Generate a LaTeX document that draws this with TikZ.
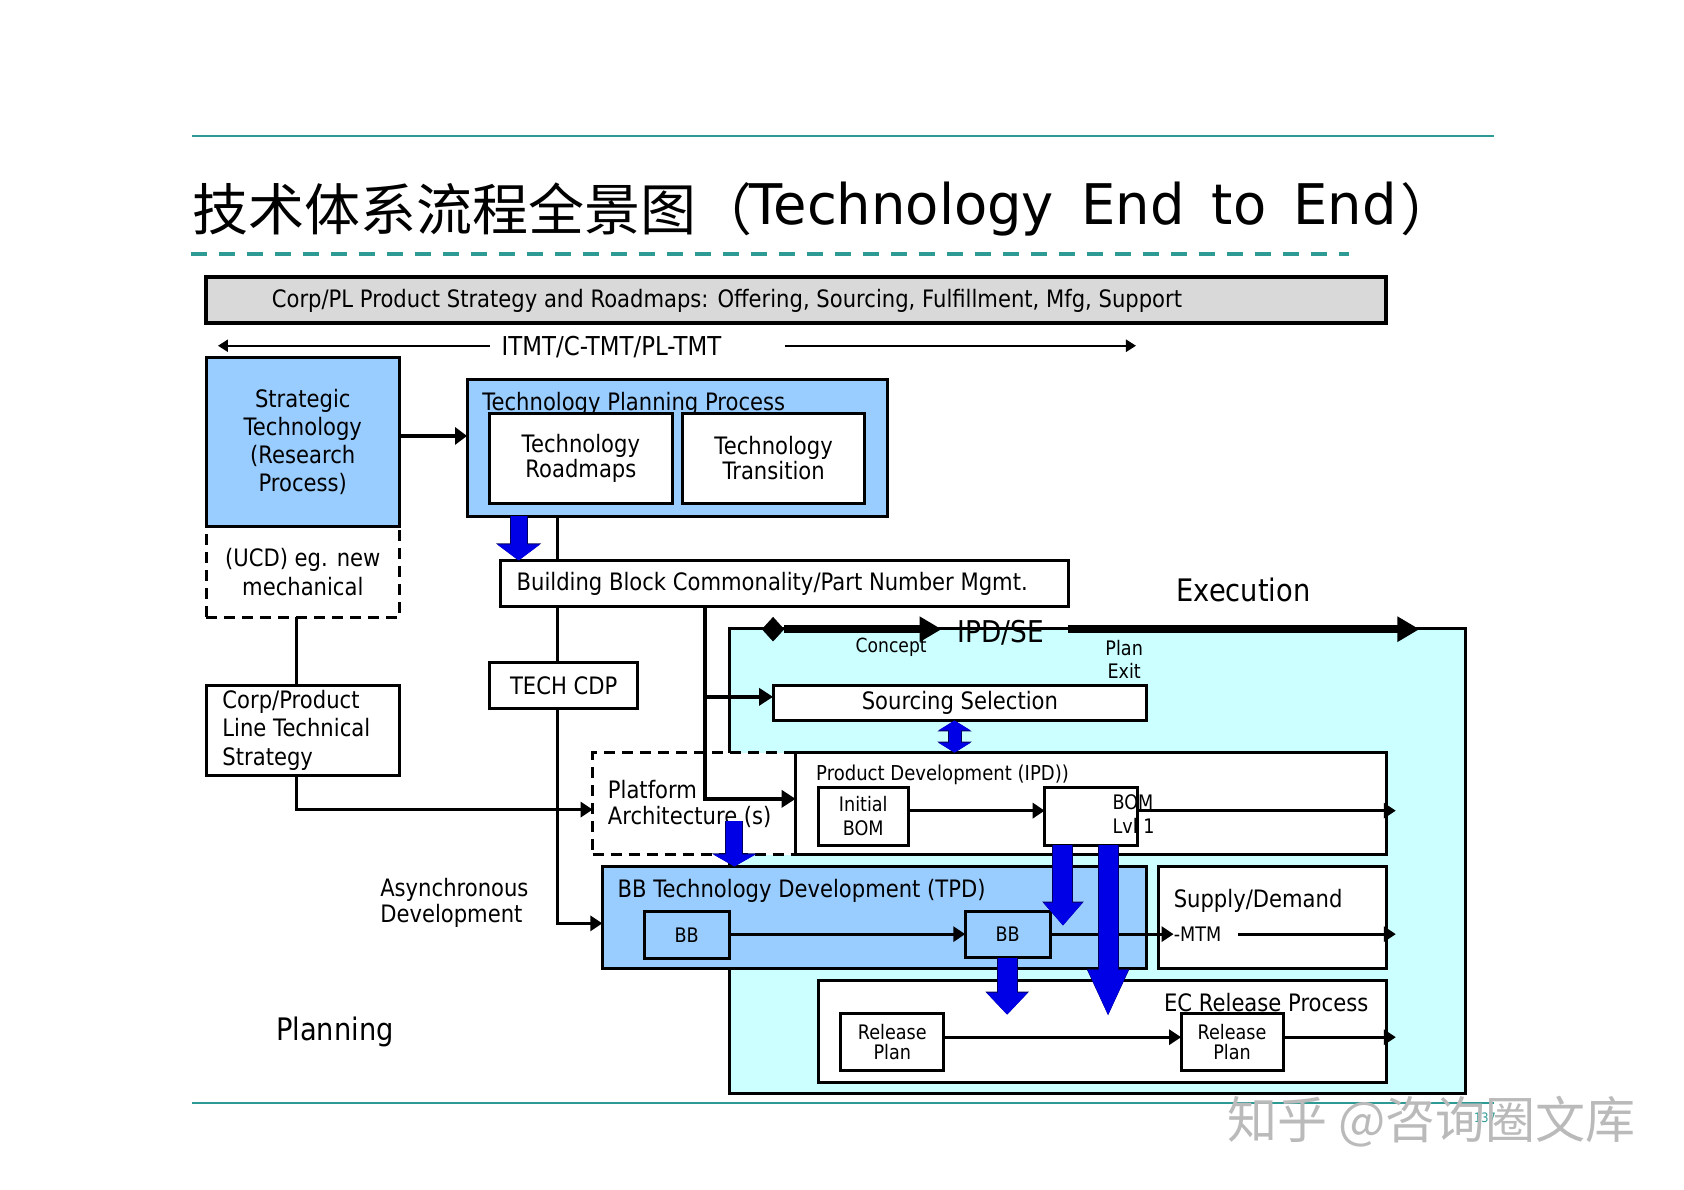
\documentclass[tikz,border=0pt]{standalone}
\usepackage{fontspec}
\usetikzlibrary{arrows.meta,calc,shapes.geometric}
\setmainfont{DejaVu Sans}[FakeStretch=0.88]
\newfontfamily\cjk{Noto Sans CJK SC}
\newfontfamily\titlefont{DejaVu Sans}[FakeStretch=0.97]
\definecolor{teal1}{HTML}{2E9A94}
\definecolor{sky}{HTML}{99CCFF}
\definecolor{cyan1}{HTML}{CCFFFF}
\definecolor{gray1}{HTML}{D9D9D9}
\definecolor{blue1}{HTML}{0000E6}
\newcommand{\fs}[1]{\fontsize{#1}{#1}\selectfont}
\newcommand{\fsl}[2]{\fontsize{#1}{#2}\selectfont}
% box: name, x1,y1,x2,y2, style, text
\newcommand{\bx}[7]{%
  \pgfmathsetmacro{\bw}{(#4-#2)*1.0737}%
  \pgfmathsetmacro{\bh}{(#5-#3)*1.0737}%
  \node[draw=black,outer sep=0pt,inner sep=0pt,line width=3pt,minimum width=\bw pt,minimum height=\bh pt,align=center,#6] (#1) at ({(#2+#4)/2},{(#3+#5)/2}) {#7};}
% blue arrow: from, to, shaft, head length, head width
\newcommand{\barrow}[5]{%
  \draw[black!60!blue1,line width=#3pt+2pt,-{Triangle[length=#4pt+1pt,width=#5pt+2pt]}] #1 -- #2;
  \draw[blue1,line width=#3pt,-{Triangle[length=#4pt,width=#5pt]}] #1 -- #2;}
\tikzset{
  x=1.0737pt,y=-1.0737pt,
  arr/.style={line width=3pt,-{Triangle[length=12pt,width=15pt]}},
  thinarr/.style={line width=2.4pt,-{Triangle[length=10pt,width=12pt]}},
  thickarr/.style={line width=8pt,-{Triangle[length=22pt,width=24pt]}},
  medarr/.style={line width=4pt,-{Triangle[length=14pt,width=17pt]}},
  conn/.style={line width=3pt},
  lab/.style={inner sep=0pt,anchor=west},
  mid/.style={inner sep=0pt,align=center},
  dash box/.style={dash pattern=on 11pt off 7pt},
}
\begin{document}
\begin{tikzpicture}
\useasboundingbox[fill=white] (0,0) rectangle (1568.4,1108.3);
\coordinate (tl1) at (179,127); \coordinate (tl2) at (1391,127);
\draw[teal1,line width=2pt] (tl1) -- (tl2);
\node[lab] (title) at (179,195) {\cjk\fs{56}技术体系流程全景图（};
\node[lab] (title2) at (698,195) {\titlefont\fs{56}Technology\hspace{10pt} End\hspace{10pt} to\hspace{10pt} End};
\node[lab] (title3) at (1304,195) {\cjk\fs{56}）};
\coordinate (dl1) at (178,237); \coordinate (dl2) at (1256,237);
\draw[teal1,line width=4pt,dash pattern=on 16pt off 12pt] (dl1) -- (dl2);
\bx{corp}{192}{258}{1291}{301}{fill=gray1,line width=4.5pt}{}
\node[lab] (corpt) at (253,280) {\fs{24}Corp/PL Product Strategy and Roadmaps: Offering, Sourcing, Fulfillment, Mfg, Support};
\node[lab] (itmt) at (467,323) {\fs{26}ITMT/C-TMT/PL-TMT};
\coordinate (itl) at (203,322); \coordinate (itr) at (1058,322); \coordinate (itml) at (456,322); \coordinate (itmr) at (731,322);
\draw[thinarr] (itml) -- (itl);
\draw[thinarr] (itmr) -- (itr);
% cyan background
\bx{cy}{679}{585}{1365}{1018}{fill=cyan1}{}
% left column
\bx{ucd}{192}{490}{372}{575}{fill=white,dash box,font=\fsl{24}{29}}{(UCD) eg. new\\mechanical}
\bx{strat}{192}{333}{372}{490}{fill=sky,font=\fsl{24}{28}}{Strategic\\Technology\\(Research\\Process)}
\bx{cpl}{192}{638}{372}{722}{fill=white}{}
\node[lab,align=left,font=\fsl{24}{28.7}] (cplt) at (207,680) {Corp/Product\\Line Technical\\Strategy};
\draw[conn] (ucd.south -| 276,0) -- (cpl.north -| 276,0);
% tech planning
\bx{tp}{435}{353}{827}{481}{fill=sky}{}
\node[lab] (tpt) at (449,376) {\fs{24}Technology Planning Process};
\bx{road}{456}{385}{626}{469}{fill=white,font=\fsl{24}{25}}{Technology\\Roadmaps}
\bx{trans}{636}{385}{805}{469}{fill=white,font=\fsl{24}{25}}{Technology\\Transition}
\draw[line width=4.5pt,-{Triangle[length=12pt,width=17pt]}] (strat.east |- 0,406) -- (tp.west |- 0,406);
% building block
\bx{bbc}{466}{522}{995}{565}{fill=white}{}
\node[lab] (bbct) at (481,544) {\fs{24}Building Block Commonality/Part Number Mgmt.};
\barrow{(tp.south -| 483,0)}{(bbc.north -| 483,0)}{16}{16}{42}
\draw[conn] (tp.south -| 519,0) -- (bbc.north -| 519,0);
\bx{cdp}{456}{617}{594}{660}{fill=white}{\fs{24}TECH CDP}
\draw[conn] (bbc.south -| 519,0) -- (cdp.north -| 519,0);
\bx{plat}{552}{701}{741}{796}{fill=white,dash box}{}
\node[lab,align=left,font=\fsl{24}{26}] (platt) at (566,749) {Platform\\Architecture (s)};
\bx{pd}{741}{701}{1291}{796}{fill=white}{}
\bx{sel}{720}{638}{1068}{671}{fill=white}{\fs{24}Sourcing Selection}
\node[lab] (pdt) at (760,722) {\fs{20.5}Product Development (IPD))};
\bx{ibom}{762}{733}{846}{787}{fill=white,font=\fsl{20}{24.5}}{Initial\\BOM}
\bx{bom}{973}{733}{1059}{787}{fill=white}{}
\node[lab,align=left,font=\fsl{20}{24.5}] (bomt) at (1036,758) {BOM\\Lvl 1};
% connector from BB commonality
\coordinate (v1) at (657,649); \coordinate (v2) at (657,744);
\draw[medarr] (bbc.south -| v2) -- (v2) -- (plat.east |- v2);
\draw[medarr] (v1) -- (sel.west |- v1);
\draw[black!60!blue1,line width=14pt,{Triangle[length=11pt,width=34pt]}-{Triangle[length=11pt,width=34pt]}] (sel.south -| 889,0) -- (pd.north -| 889,0);
\draw[blue1,line width=12pt,{Triangle[length=10pt,width=32pt]}-{Triangle[length=10pt,width=32pt]}] (sel.south -| 889,0) -- (pd.north -| 889,0);
\draw[arr] (ibom.east |- 0,755) -- (bom.west |- 0,755);
\coordinate (pdout) at (1300,755);
\draw[arr] (bom.east |- pdout) -- (pdout);
% corp strategy over to platform
\draw[arr] (cpl.south -| 276,0) |- (plat.west |- 0,754);
% BB technology
\bx{tpd}{561}{807}{1068}{902}{fill=sky}{}
\draw[arr] (cdp.south -| 519,0) |- (tpd.west |- 0,860);
\node[lab] (tpdt) at (575,830) {\fs{24}BB Technology Development (TPD)};
\bx{bb1}{600}{849}{679}{893}{fill=sky}{\fs{20}BB}
\bx{bb2}{899}{849}{978}{892}{fill=sky}{\fs{20}BB}
\draw[arr] (bb1.east |- 0,870) -- (bb2.west |- 0,870);
\bx{sup}{1079}{807}{1291}{902}{fill=white}{}
\node[lab] (supt) at (1093,839) {\fs{24}Supply/Demand};
\node[lab] (mtm) at (1093,870) {\fs{20}-MTM};
\coordinate (supout) at (1300,870); \coordinate (mtmr) at (1153,870);
\draw[arr] (bb2.east |- 0,870) -- (mtm.west |- 0,870);
\draw[arr] (mtmr) -- (supout);
% EC release
\bx{ec}{762}{913}{1291}{1008}{fill=white}{}
\node[lab] (ect) at (1084,934) {\fs{24}EC Release Process};
\bx{rp1}{783}{944}{879}{997}{fill=white,font=\fsl{20}{20.5}}{Release\\Plan}
\bx{rp2}{1100}{944}{1195}{997}{fill=white,font=\fsl{20}{20.5}}{Release\\Plan}
\draw[arr] (rp1.east |- 0,966) -- (rp2.west |- 0,966);
\coordinate (ecout) at (1300,966);
\draw[arr] (rp2.east |- ecout) -- (ecout);
% blue arrows
\coordinate (pa) at (684,765); \coordinate (t1) at (990,862); \coordinate (t2) at (1032,947); \coordinate (t3) at (938,945);
\barrow{(pa)}{(tpd.north -| pa)}{16}{12}{42}
\barrow{(bom.south -| t1)}{(t1)}{19}{23}{38}
\barrow{(bom.south -| t2)}{(t2)}{19}{47}{37}
\barrow{(bb2.south -| t3)}{(t3)}{19}{22}{40}
% IPD/SE timeline
\node[mid] (ipdse) at (932,589) {\fs{30}IPD/SE};
\node[draw=black,fill=black,diamond,inner sep=0pt,minimum width=22pt,minimum height=24pt] (dia) at (720,586) {};
\coordinate (a1) at (877,586); \coordinate (a2) at (995,586); \coordinate (a3) at (1322,586);
\draw[thickarr] (dia) -- (a1);
\draw[thickarr] (a2) -- (a3);
\node[mid] (conc) at (830,603) {\fs{19.5}Concept};
\node[mid,font=\fsl{20}{23}] (plan) at (1047,614) {Plan\\Exit};
\node[mid] (exec) at (1158,549) {\fs{31}Execution};
% free labels
\node[lab,align=left,font=\fsl{24}{25.5}] (async) at (354,841) {Asynchronous\\Development};
\node[lab] (plng) at (257,961) {\fs{31}Planning};
% bottom
\coordinate (bl1) at (179,1027); \coordinate (bl2) at (1391,1027);
\draw[teal1,line width=2pt] (bl1) -- (bl2);
\node[mid,text=teal1] (pg) at (1383,1041) {\fs{13}137};
\node[lab,text=black!27] (wm) at (1143,1045) {\cjk\fs{50}知乎 @咨询圈文库};
\end{tikzpicture}
\end{document}
